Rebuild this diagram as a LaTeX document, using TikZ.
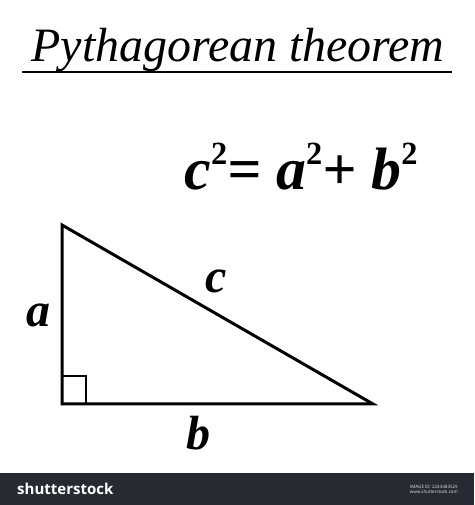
\documentclass[tikz,border=0pt]{standalone}
\usepackage{fontspec}
\setmainfont{Liberation Serif}
\setsansfont{Open Sans}
\newcommand{\supii}{\raisebox{0.42em}{\fontsize{26}{28}\selectfont\bfseries\upshape 2}}
\begin{document}
\begin{tikzpicture}[x=1pt,y=1pt,
  edge/.style={line width=3pt,line join=miter},
  lbl/.style={font=\fontsize{48}{52}\selectfont\bfseries\itshape,inner sep=0pt}]
\useasboundingbox (0,0) rectangle (474,505);
\fill[white] (0,0) rectangle (474,505);
% title
\node[anchor=base,inner sep=0pt] (title) at (238,443) {\resizebox{413pt}{!}{\fontsize{50}{55}\selectfont\itshape Pythagorean theorem}};
\coordinate (ruleL) at (22,433);
\coordinate (ruleR) at (452,433);
\draw[line width=1.5pt] (ruleL) -- (ruleR);
% equation
\node[anchor=base,inner sep=0pt] (eq) at (301,315) {\resizebox{233pt}{!}{\fontsize{48}{52}\selectfont\bfseries\itshape c\supii= a\supii+ b\supii}};
% triangle
\coordinate (A) at (62,280);
\coordinate (C) at (62,101);
\coordinate (B) at (373,101);
\draw[edge] (A) -- (C) -- (B) -- cycle;
\coordinate (s1) at (62,129);
\coordinate (s2) at (86,129);
\coordinate (s3) at (86,101);
\draw[line width=1.5pt] (s1) -- (s2) -- (s3);
\node[lbl] (la) at (38,190) {a};
\node[lbl] (lc) at (216,224) {c};
\node[lbl] (lb) at (198,72) {b};
% bottom bar
\fill[fill={rgb,255:red,37;green,42;blue,51}] (0,0) rectangle (474,32);
\node[anchor=west,text=white,font=\sffamily\bfseries\fontsize{15}{18}\selectfont,inner sep=0pt] (brand) at (17,16) {shutterstock};
\node[anchor=east,text=white!80!gray,font=\sffamily\fontsize{4.5}{5}\selectfont,inner sep=0pt,align=right] (imgid) at (458,16) {IMAGE ID: 2243483529\\www.shutterstock.com};
\end{tikzpicture}
\end{document}
